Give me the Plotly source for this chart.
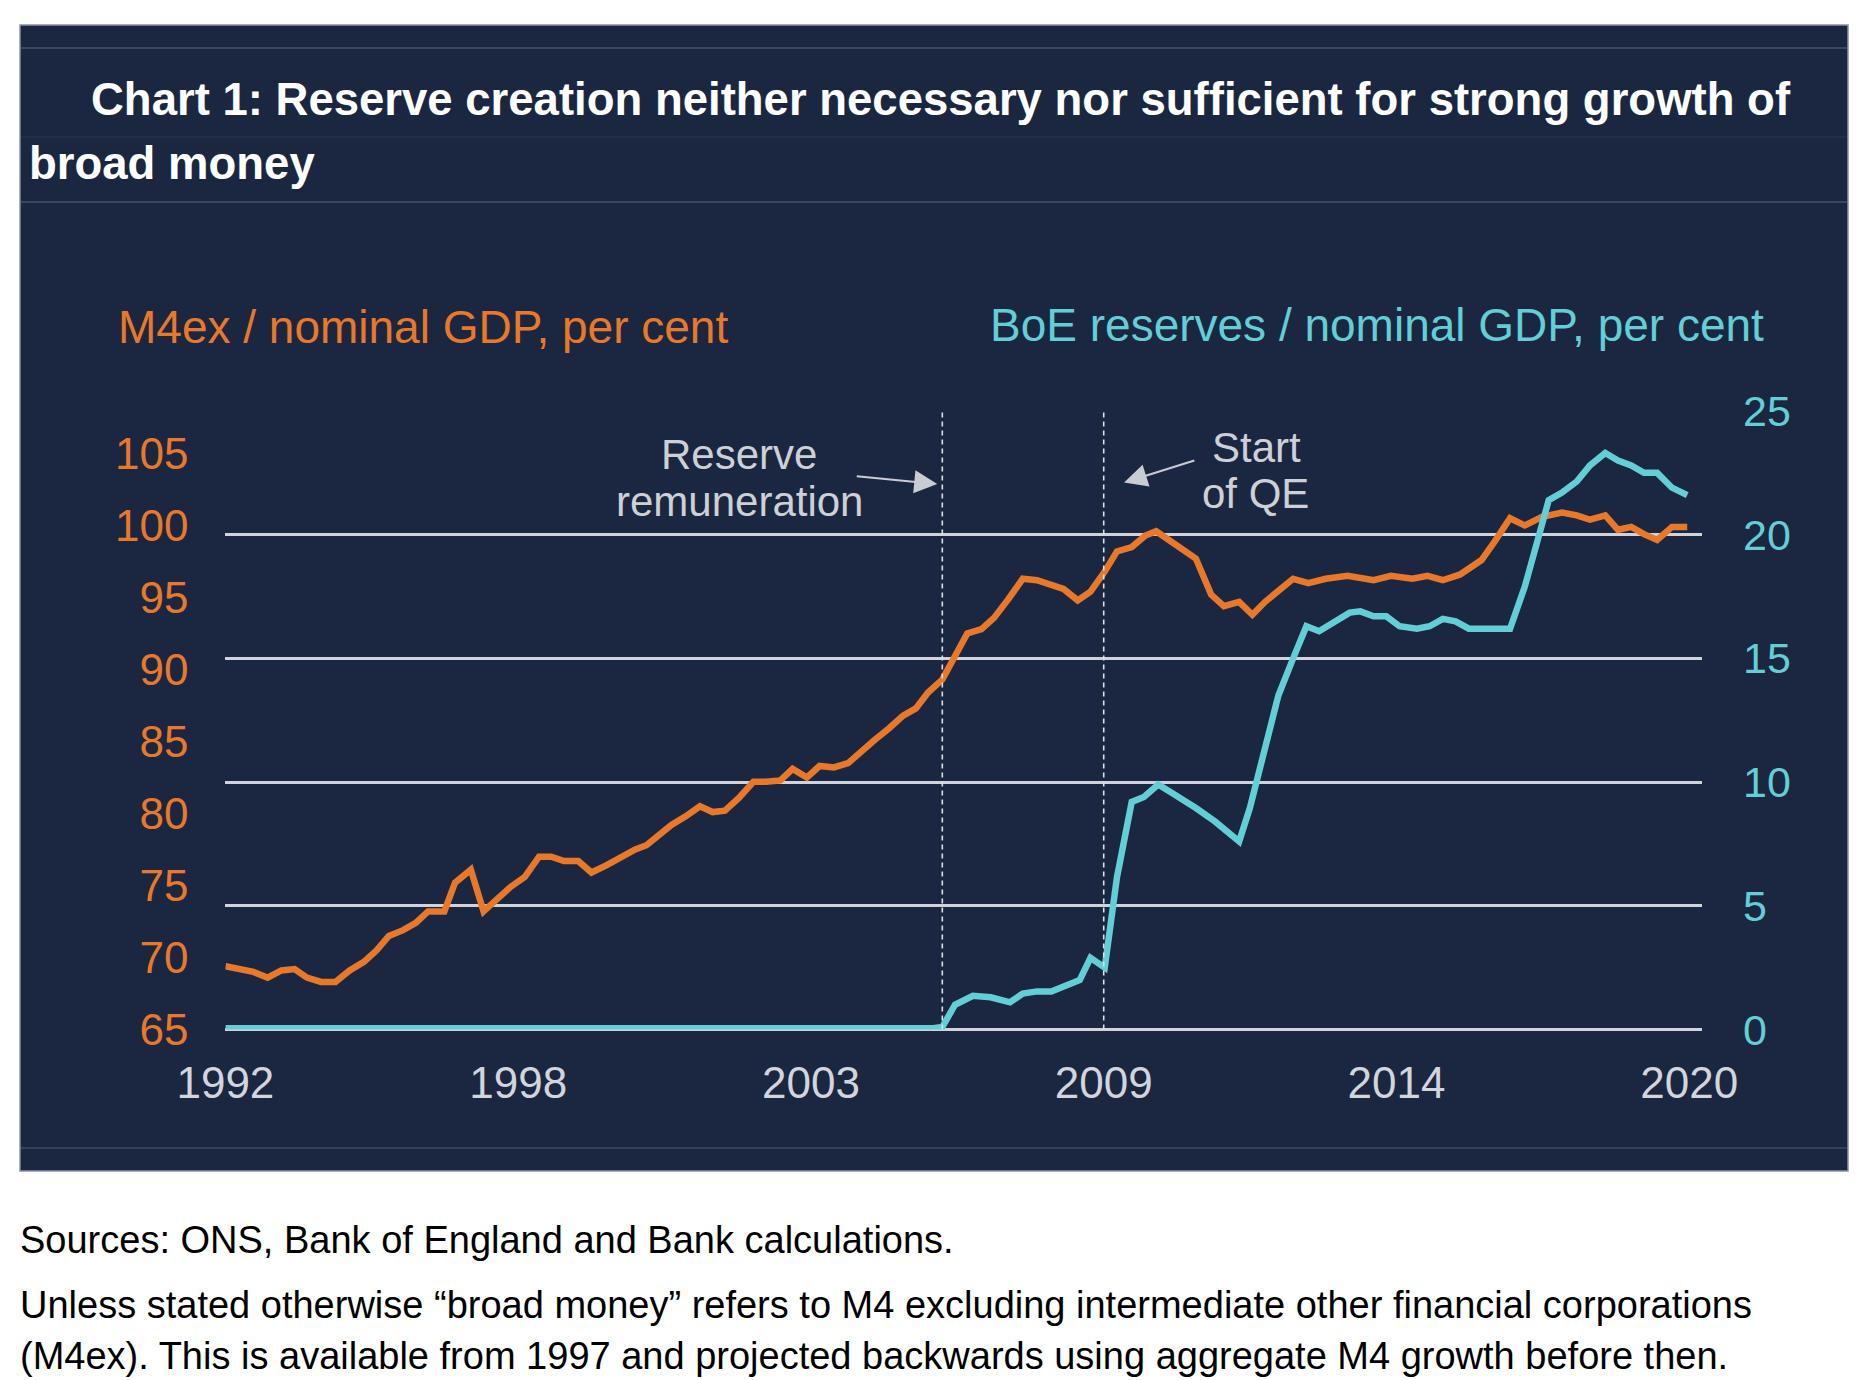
import plotly.graph_objects as go

# M4ex / nominal GDP (left axis, per cent)
m4_years = [1992.0, 1992.34, 1992.55, 1992.83, 1993.1, 1993.36, 1993.6, 1993.88, 1994.16,
            1994.44, 1994.72, 1994.97, 1995.21, 1995.49, 1995.74, 1995.98, 1996.3, 1996.51,
            1996.82, 1997.07, 1997.32, 1997.6, 1997.88, 1998.16, 1998.4, 1998.65, 1998.93,
            1999.19, 1999.48, 1999.77, 2000.05, 2000.27, 2000.76, 2001.04, 2001.32, 2001.57,
            2001.81, 2002.09, 2002.37, 2002.62, 2002.9, 2003.14, 2003.42, 2003.67, 2003.95,
            2004.23, 2004.51, 2004.75, 2005.03, 2005.31, 2005.56, 2005.8, 2006.08, 2006.33,
            2006.57, 2006.85, 2007.1, 2007.38, 2007.66, 2007.94, 2008.18, 2008.46, 2008.74,
            2008.99, 2009.27, 2009.51, 2009.8, 2010.07, 2010.28, 2010.5, 2010.84, 2011.06,
            2011.36, 2011.61, 2011.91, 2012.17, 2012.42, 2012.72, 2012.97, 2013.27, 2013.61,
            2014.04, 2014.55, 2014.89, 2015.31, 2015.61, 2015.91, 2016.25, 2016.67, 2016.93,
            2017.23, 2017.52, 2017.86, 2018.25, 2018.54, 2018.8, 2019.1, 2019.35, 2019.61,
            2019.86, 2020.12, 2020.41, 2020.71]
m4_ratio = [69.4, 69.2, 69.0, 68.6, 69.1, 69.2, 68.6, 68.3, 68.3,
            69.1, 69.7, 70.5, 71.5, 71.9, 72.4, 73.2, 73.2, 75.2,
            76.1, 73.2, 74.0, 74.9, 75.6, 77.0, 77.0, 76.7, 76.7,
            75.9, 76.4, 77.0, 77.5, 77.8, 79.2, 79.8, 80.5, 80.1,
            80.2, 81.1, 82.2, 82.2, 82.3, 83.1, 82.5, 83.3, 83.2,
            83.5, 84.4, 85.1, 85.9, 86.8, 87.3, 88.4, 89.3, 90.9,
            92.5, 92.8, 93.6, 94.9, 96.3, 96.2, 95.9, 95.6, 94.8,
            95.4, 96.8, 98.2, 98.5, 99.3, 99.6, 99.1, 98.2, 97.7,
            95.2, 94.4, 94.7, 93.8, 94.7, 95.5, 96.3, 96.0, 96.3,
            96.5, 96.2, 96.5, 96.3, 96.5, 96.2, 96.6, 97.6, 98.9,
            100.5, 100.0, 100.6, 100.9, 100.7, 100.4, 100.7, 99.7, 99.9,
            99.4, 99.0, 99.9, 99.9]

# BoE reserves / nominal GDP (right axis, per cent)
res_years = [1992.0, 1994.0, 1996.0, 1998.0, 2000.0, 2001.2, 2001.6, 2002.3, 2002.5,
             2003.0, 2003.4, 2003.9, 2005.5, 2005.9, 2006.08, 2006.33, 2006.68, 2007.03,
             2007.41, 2007.66, 2007.94, 2008.22, 2008.5, 2008.78, 2008.99, 2009.27, 2009.51,
             2009.8, 2010.04, 2010.32, 2010.56, 2010.81, 2011.06, 2011.44, 2011.91, 2012.12,
             2012.42, 2012.68, 2012.97, 2013.23, 2013.48, 2013.78, 2014.08, 2014.29, 2014.55,
             2014.8, 2015.06, 2015.4, 2015.65, 2015.91, 2016.16, 2016.42, 2016.67, 2017.23,
             2017.52, 2017.78, 2017.99, 2018.25, 2018.54, 2018.8, 2019.1, 2019.35, 2019.61,
             2019.86, 2020.12, 2020.41, 2020.71]
res_ratio = [0.05, 0.05, 0.05, 0.05, 0.05, 0.05, 0.0, 0.0, 0.05,
             0.0, 0.05, 0.0, 0.0, 0.05, 0.1, 1.0, 1.36, 1.3,
             1.1, 1.45, 1.54, 1.54, 1.77, 2.0, 2.9, 2.5, 6.15,
             9.2, 9.4, 9.9, 9.6, 9.3, 8.95, 8.4, 7.6, 8.95,
             11.4, 13.5, 15.0, 16.3, 16.1, 16.5, 16.85, 16.9, 16.7,
             16.7, 16.3, 16.2, 16.3, 16.6, 16.5, 16.2, 16.2, 16.2,
             17.9, 19.9, 21.4, 21.7, 22.15, 22.8, 23.3, 23.0, 22.8,
             22.5, 22.5, 21.9, 21.6]

x_ticks = [1992, 1997.75, 2003.5, 2009.25, 2015, 2020.75]
x_labels = ["1992", "1998", "2003", "2009", "2014", "2020"]
left_ticks = [65, 70, 75, 80, 85, 90, 95, 100, 105]
right_ticks = [0, 5, 10, 15, 20, 25]

events = [2006.08, 2009.25]   # reserve remuneration, start of QE

# page body has an 8px margin, so the figure is a bit smaller and shifted
OFF = 8
W, H = 1860 - OFF, 1380 - OFF
NAVY = "#1b2740"
ORANGE = "#e8792a"
TEAL = "#62ced6"
GREY = "#d2d5db"
FONT = "Liberation Sans, Arial, sans-serif"


def px(x):
    return (x - OFF) / W


def py(y):
    return 1 - (y - OFF) / H


fig = go.Figure()
fig.add_trace(go.Scatter(x=m4_years, y=m4_ratio, mode="lines", yaxis="y",
                         line=dict(color=ORANGE, width=6.5), showlegend=False))
fig.add_trace(go.Scatter(x=res_years, y=res_ratio, mode="lines", yaxis="y2",
                         line=dict(color=TEAL, width=6.5), showlegend=False))

shapes = [
    dict(type="rect", xref="paper", yref="paper", x0=px(20), x1=px(1848), y0=py(1171), y1=py(25),
         fillcolor=NAVY, line=dict(color="#8b94a5", width=1.5), layer="below"),
]
for yy, col in [(48, "#3b4760"), (137, "#222e47"), (202, "#3b4760"), (1148, "#34405a")]:
    shapes.append(dict(type="line", xref="paper", yref="paper", x0=px(21), x1=px(1847),
                       y0=py(yy), y1=py(yy), line=dict(color=col, width=2), layer="below"))
for ev in events:
    shapes.append(dict(type="line", xref="x", yref="y2", x0=ev, x1=ev, y0=0, y1=25,
                       line=dict(color="#dcdfe4", width=1.6, dash="5px,4px")))

ann = []


def text(s, x, y, size, color, anchor="left", bold=False):
    ann.append(dict(text=f"<b>{s}</b>" if bold else s, xref="paper", yref="paper",
                    x=px(x), y=py(y), xanchor=anchor, yanchor="middle", showarrow=False,
                    font=dict(family=FONT, size=size, color=color)))


text("Chart 1: Reserve creation neither necessary nor sufficient for strong growth of",
     89, 99, 45.5, "white", bold=True)
text("broad money", 27, 164, 45.5, "white", bold=True)
text("M4ex / nominal GDP, per cent", 116, 327, 46, ORANGE)
text("BoE reserves / nominal GDP, per cent", 1766, 325, 46, TEAL, anchor="right")
text("Reserve", 739, 454, 42, "#cdd0d6", anchor="center")
text("remuneration", 739, 501, 42, "#cdd0d6", anchor="center")
text("Start", 1256, 448, 42, "#cdd0d6", anchor="center")
text("of QE", 1255, 494, 42, "#cdd0d6", anchor="center")
text("Sources: ONS, Bank of England and Bank calculations.", 18, 1240, 38, "black")
text("Unless stated otherwise \u201cbroad money\u201d refers to M4 excluding intermediate other "
     "financial corporations", 18, 1305, 38, "black")
text("(M4ex). This is available from 1997 and projected backwards using aggregate M4 growth "
     "before then.", 18, 1356, 38, "black")

# arrows pointing at the two event lines
for head, tail in [((2005.98, 22.05), (2004.37, 22.37)), ((2009.65, 22.11), (2011.06, 23.02))]:
    ann.append(dict(text="", x=head[0], y=head[1], xref="x", yref="y2",
                    ax=tail[0], ay=tail[1], axref="x", ayref="y2", showarrow=True,
                    arrowhead=2, arrowsize=2.3, arrowwidth=2, arrowcolor="#c9ccd3",
                    standoff=0, startstandoff=0))

fig.update_layout(
    template="none",
    width=W, height=H, margin=dict(l=0, r=0, t=0, b=0, pad=0), autosize=False,
    paper_bgcolor="white", plot_bgcolor="rgba(0,0,0,0)",
    font=dict(family=FONT),
    shapes=shapes, annotations=ann,
    xaxis=dict(domain=[px(225.4), px(1702)], range=[1992, 2021], tickvals=x_ticks,
               ticktext=x_labels, showgrid=False, zeroline=False, showline=False,
               ticks="", ticklabelstandoff=23, automargin=False,
               tickfont=dict(family=FONT, size=44, color=GREY)),
    yaxis=dict(domain=[py(1029.5), py(411)], range=[65, 107.95], tickvals=left_ticks,
               showgrid=False, zeroline=False, showline=False, ticks="", automargin=False,
               ticklabelstandoff=36, tickfont=dict(family=FONT, size=44, color=ORANGE)),
    yaxis2=dict(overlaying="y", side="right", range=[0, 25], tickvals=right_ticks,
                showgrid=True, gridcolor="#d0d3d9", gridwidth=2.5, automargin=False,
                zeroline=True, zerolinecolor="#d0d3d9", zerolinewidth=2.5, showline=False,
                ticks="", ticklabelstandoff=40,
                tickfont=dict(family=FONT, size=43, color=TEAL)),
)

fig.write_html("out.html")
